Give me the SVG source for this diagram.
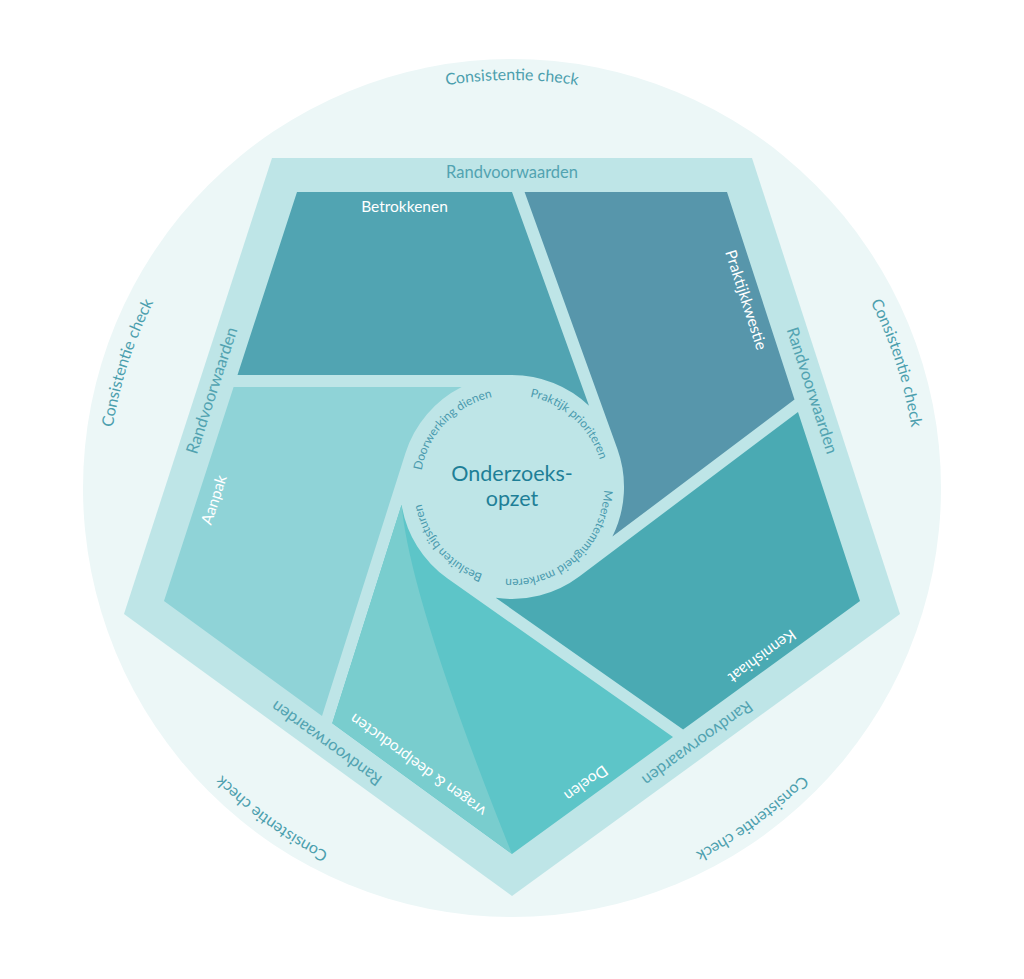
<svg xmlns="http://www.w3.org/2000/svg" width="1024" height="979" viewBox="0 0 1024 979">
<style>
.band{fill:#BEE5E7}
.lbl{font-family:Lato,"Open Sans","Liberation Sans",sans-serif;fill:#FFFFFF;font-size:15.5px;text-anchor:middle}
.rv{font-family:Lato,"Open Sans","Liberation Sans",sans-serif;fill:#52A3B1;font-size:16.5px;text-anchor:middle}
.cc{font-family:Lato,"Open Sans","Liberation Sans",sans-serif;fill:#4C9FAE;font-size:16px;text-anchor:middle}
.ct{font-family:Lato,"Open Sans","Liberation Sans",sans-serif;fill:#4A9AAE;font-size:12px;text-anchor:middle}
.mid{font-family:Lato,"Open Sans","Liberation Sans",sans-serif;fill:#1E7F97;font-size:21.5px;text-anchor:middle}
</style>
<defs>
<path id="cc1" d="M104,488 A408,408 0 0 1 920,488"/>
<path id="cc2" d="M385.9,100 A408,408 0 0 1 638.1,876"/>
<path id="cc3" d="M842.1,248.2 A408,408 0 0 1 181.9,727.8"/>
<path id="cc4" d="M842.1,727.8 A408,408 0 0 1 181.9,248.2"/>
<path id="cc5" d="M385.9,876 A408,408 0 0 1 638.1,100"/>
<path id="ct1" d="M448.1,553.2 A92,92 0 0 1 575.9,420.8"/>
<path id="ct2" d="M443.6,425.4 A92,92 0 0 1 580.4,548.6"/>
<path id="ct3" d="M580.4,425.4 A92,92 0 0 1 443.6,548.6"/>
<path id="ct4" d="M572.4,556.4 A92,92 0 0 1 451.6,417.6"/>
</defs>

<g id="consistentie">
<circle cx="512" cy="488" r="429" fill="#ECF7F7"/>
<text class="cc"><textPath href="#cc1" startOffset="50%">Consistentie check</textPath></text>
<text class="cc"><textPath href="#cc2" startOffset="50%">Consistentie check</textPath></text>
<text class="cc"><textPath href="#cc3" startOffset="50%">Consistentie check</textPath></text>
<text class="cc"><textPath href="#cc4" startOffset="50%">Consistentie check</textPath></text>
<text class="cc"><textPath href="#cc5" startOffset="50%">Consistentie check</textPath></text>
</g>

<g id="randvoorwaarden">
<polygon class="band" points="272,158 752,158 900,614 512,896 124,614"/>
<text class="rv" x="512" y="178">Randvoorwaarden</text>
<text class="rv" transform="translate(806.8,392.2) rotate(72)">Randvoorwaarden</text>
<text class="rv" transform="translate(694.2,738.8) rotate(144)">Randvoorwaarden</text>
<text class="rv" transform="translate(329.8,738.8) rotate(216)">Randvoorwaarden</text>
<text class="rv" transform="translate(217.2,392.2) rotate(288)">Randvoorwaarden</text>
</g>

<g id="betrokkenen">
<path d="M297,192 L512,192 L589,405.7 A112,112 0 0 0 512,375 L237.5,375 Z" fill="#51A4B2"/>
<text class="lbl" x="404.5" y="212">Betrokkenen</text>
</g>

<g id="praktijkkwestie">
<path d="M524.6,192 L727,192 L794.5,399.6 L612.4,536.6 A112,112 0 0 0 617.4,449 Z" fill="#5796AB"/>
<text class="lbl" transform="translate(741,301.5) rotate(72)">Praktijkkwestie</text>
</g>

<g id="kennishiaat">
<path d="M798,412 L860,601 L683.1,729.5 L495.7,597.8 A112,112 0 0 0 579.3,576.5 Z" fill="#4AAAB3"/>
<text class="lbl" transform="translate(759,652) rotate(144)">Kennishiaat</text>
</g>

<g id="doelen">
<path d="M673,737 L512,854 L332.3,723.3 L401.6,504.8 A112,112 0 0 0 447.6,578.6 Z" fill="#5DC5C8"/>
<text class="lbl" transform="translate(583,779) rotate(144)">Doelen</text>
</g>

<g id="vragen">
<path d="M401.6,504.8 L332.3,723.3 L512,854 Q410,600 401.6,504.8 Z" fill="#79CDCE"/>
<text class="lbl" transform="translate(421,761) rotate(216)">vragen &amp; deelproducten</text>
</g>

<g id="aanpak">
<path d="M233.6,387 L461.6,387 A112,112 0 0 0 405.4,453.2 L322,716 L164,601 Z" fill="#8FD3D7"/>
<text class="lbl" transform="translate(219,501.5) rotate(288)">Aanpak</text>
</g>

<g id="onderzoeksopzet">
<text class="mid" x="512" y="481">Onderzoeks-</text>
<text class="mid" x="512" y="506">opzet</text>
<text class="ct"><textPath href="#ct1" startOffset="50%">Doorwerking dienen</textPath></text>
<text class="ct"><textPath href="#ct2" startOffset="50%">Praktijk prioriteren</textPath></text>
<text class="ct"><textPath href="#ct3" startOffset="50%">Meerstemmigheid markeren</textPath></text>
<text class="ct"><textPath href="#ct4" startOffset="50%">Besluiten bijsturen</textPath></text>
</g>

<g id="connectors"></g>
</svg>
